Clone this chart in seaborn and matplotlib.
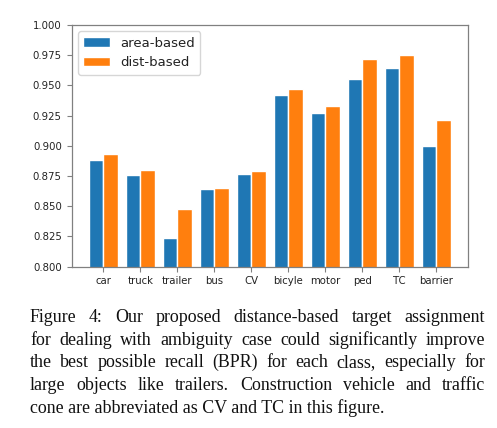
import pandas as pd
import seaborn as sns
import matplotlib.pyplot as plt

# values
classes = ["car", "truck", "trailer", "bus", "CV", "bicyle", "motor", "ped", "TC", "barrier"]
area_based = [0.888, 0.876, 0.824, 0.864, 0.877, 0.942, 0.927, 0.955, 0.964, 0.900]
dist_based = [0.893, 0.880, 0.848, 0.865, 0.879, 0.947, 0.933, 0.972, 0.975, 0.921]
yticks = [0.800, 0.825, 0.850, 0.875, 0.900, 0.925, 0.950, 0.975, 1.000]

caption_lines = [
    "Figure 4:  Our proposed distance-based target assignment",
    "for dealing with ambiguity case could significantly improve",
    "the best possible recall (BPR) for each class, especially for",
    "large objects like trailers.  Construction vehicle and traffic",
    "cone are abbreviated as CV and TC in this figure.",
]

df = pd.DataFrame({
    "cls": classes * 2,
    "bpr": area_based + dist_based,
    "method": ["area-based"] * len(classes) + ["dist-based"] * len(classes),
})

sns.set_style("white")
plt.rcParams["font.family"] = ["DejaVu Sans"]

fig = plt.figure(figsize=(4.97, 4.28), dpi=100)
ax = fig.add_axes([0.144, 0.377, 0.798, 0.565])
sns.barplot(data=df, x="cls", y="bpr", hue="method", palette=["#1f77b4", "#ff7f0e"],
            width=0.8, saturation=1, ax=ax)

ax.set_ylim(0.8, 1.0)
ax.set_xlim(-0.86, 9.86)
ax.set_yticks(yticks)
ax.set_yticklabels([f"{t:.3f}" for t in yticks])
ax.set_xlabel("")
ax.set_ylabel("")
ax.tick_params(axis="both", labelsize=7.3, colors="#222222", length=3.5, width=0.8,
               left=True, bottom=True)
ax.tick_params(axis="both", color="#808080")
for s in ax.spines.values():
    s.set_color("#808080")
    s.set_linewidth(0.9)

leg = ax.legend(loc="upper left", fontsize=9.5, frameon=True, handlelength=2.0,
                borderaxespad=0.5)
leg.get_frame().set_edgecolor("#cccccc")
for t in leg.get_texts():
    t.set_color("#222222")

# justified caption in a serif face
fig.canvas.draw()
renderer = fig.canvas.get_renderer()
x_left, x_right = 30 / 497, 485 / 497
y0 = 1 - 322 / 428
dy = 22.7 / 428
fs = 12.9
for i, line in enumerate(caption_lines):
    y = y0 - i * dy
    if i == len(caption_lines) - 1:
        fig.text(x_left, y, line, family="Liberation Serif", fontsize=fs, color="#111111",
                 va="baseline")
        continue
    words = [w for w in line.split(" ") if w]
    widths = []
    for w in words:
        t = fig.text(0, 0, w, family="Liberation Serif", fontsize=fs)
        bb = t.get_window_extent(renderer)
        widths.append(bb.width / fig.bbox.width)
        t.remove()
    gap = (x_right - x_left - sum(widths)) / (len(words) - 1)
    x = x_left
    for w, wd in zip(words, widths):
        fig.text(x, y, w, family="Liberation Serif", fontsize=fs, color="#111111",
                 va="baseline")
        x += wd + gap

fig.savefig("out.png", dpi=100)
